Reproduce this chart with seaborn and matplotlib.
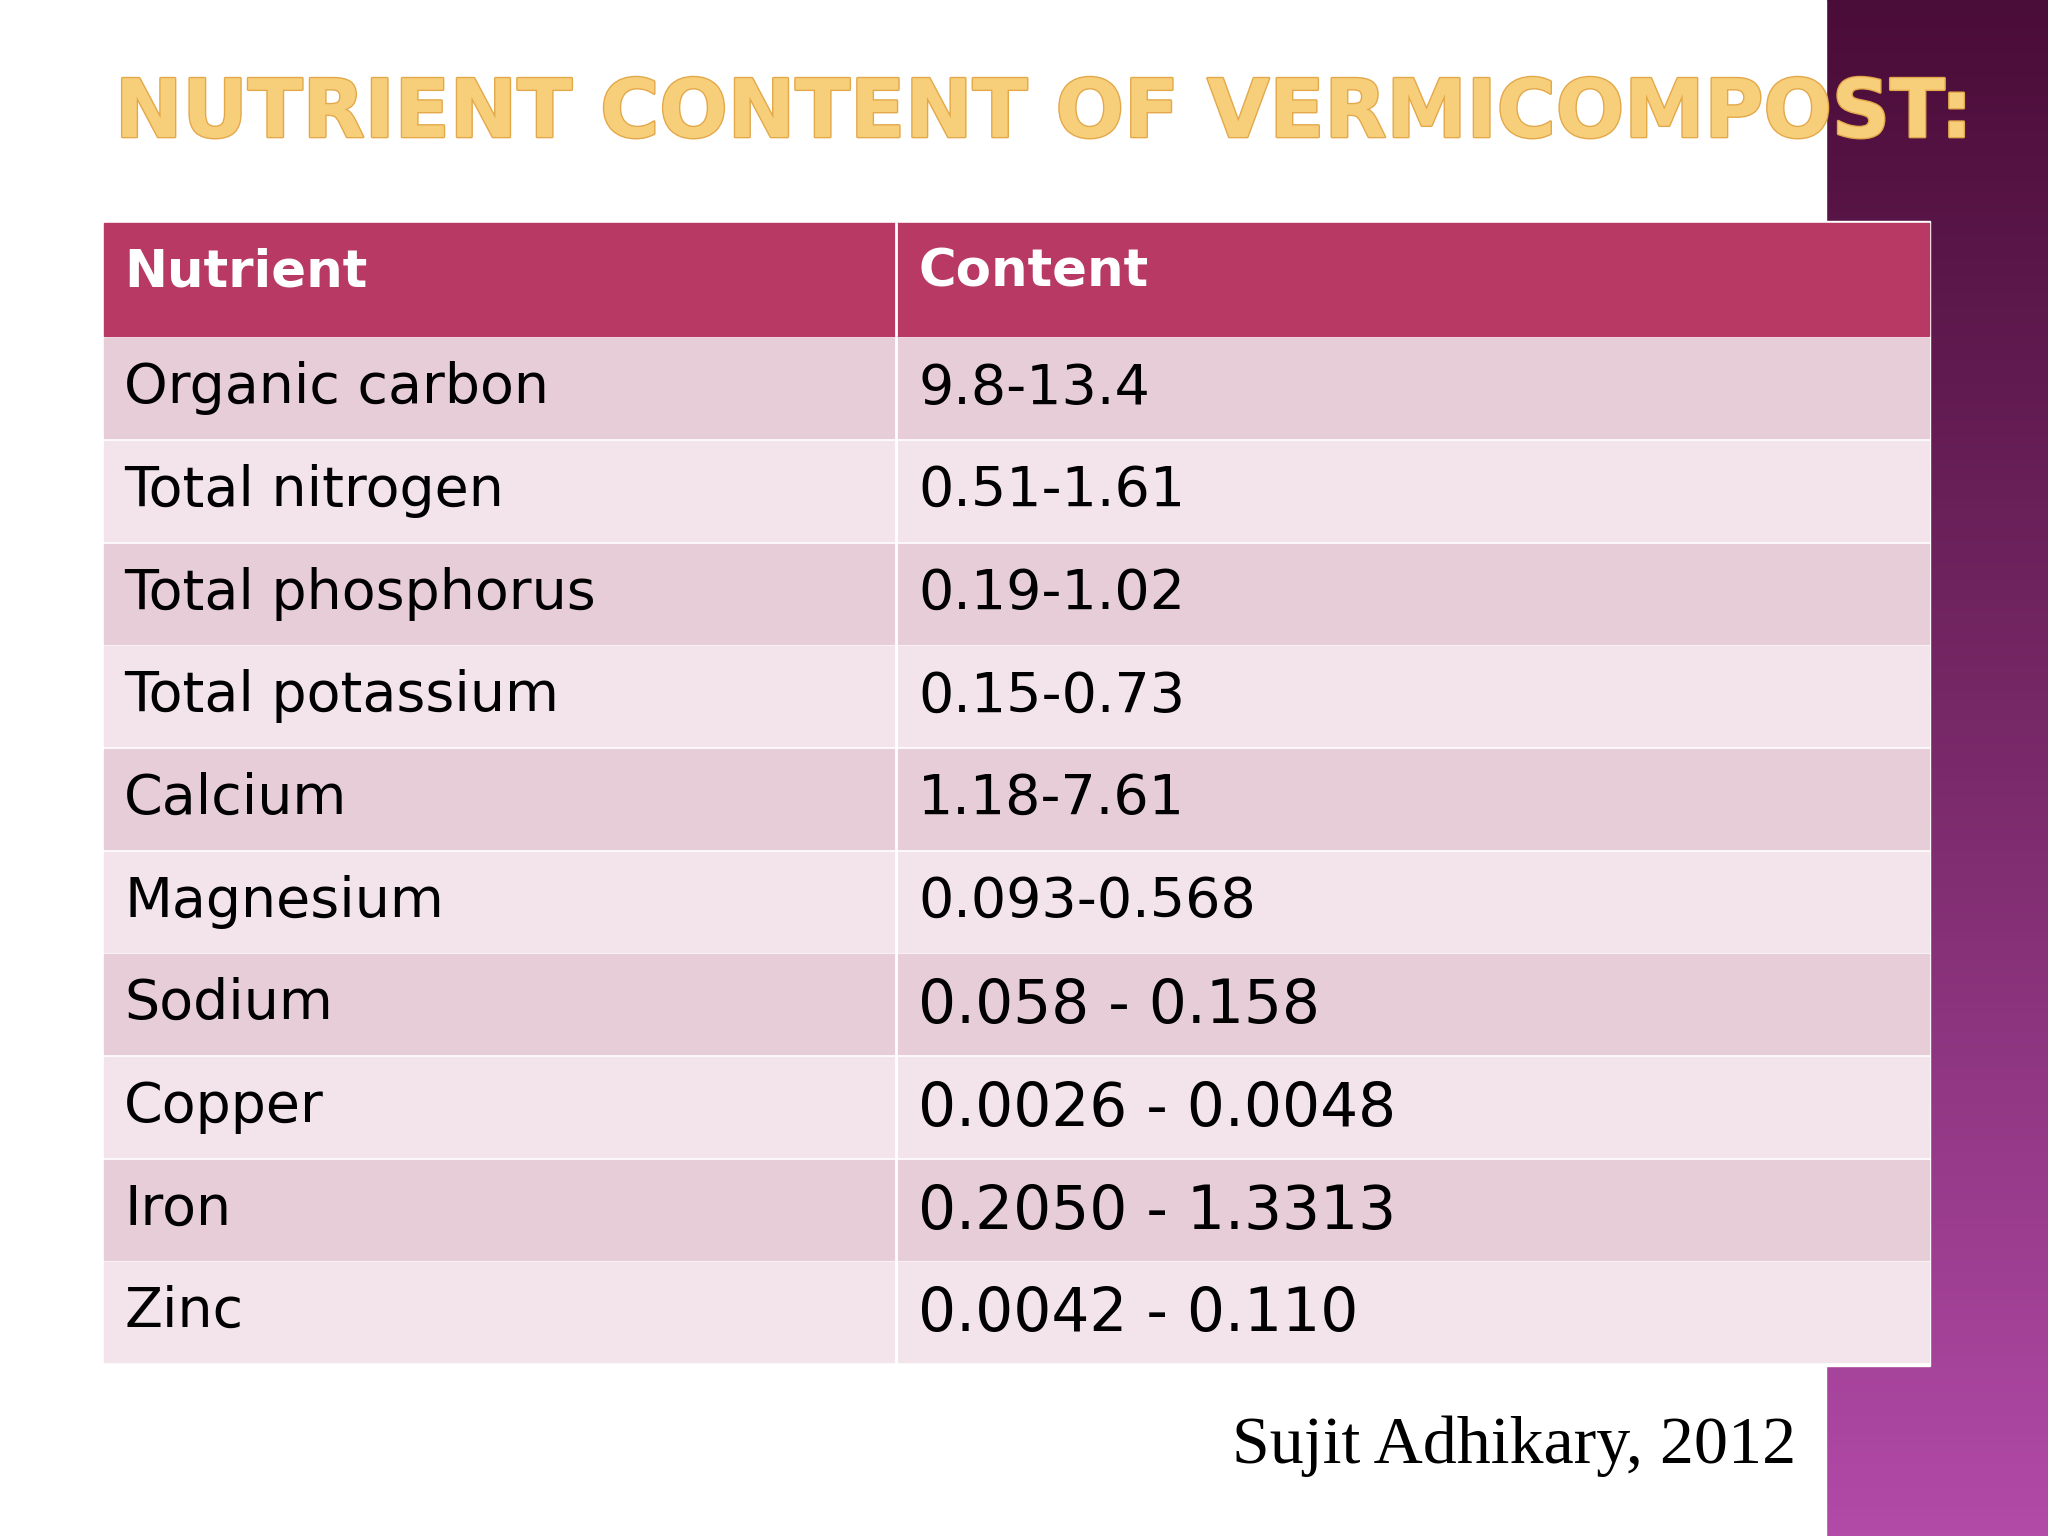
import numpy as np
import matplotlib
matplotlib.use("Agg")
import matplotlib.pyplot as plt
import matplotlib.patheffects as pe
from matplotlib.patches import Rectangle
from matplotlib.colors import LinearSegmentedColormap
import seaborn as sns

sns.set_theme(style="white")
plt.rcParams['font.family'] = ['DejaVu Sans']

title = "NUTRIENT CONTENT OF VERMICOMPOST:"
headers = ["Nutrient", "Content"]
nutrients = ["Organic carbon", "Total nitrogen", "Total phosphorus", "Total potassium",
             "Calcium", "Magnesium", "Sodium", "Copper", "Iron", "Zinc"]
contents = ["9.8-13.4", "0.51-1.61", "0.19-1.02", "0.15-0.73", "1.18-7.61",
            "0.093-0.568", "0.058 - 0.158", "0.0026 - 0.0048", "0.2050 - 1.3313", "0.0042 - 0.110"]
big_value = [False]*6 + [True]*4
citation = "Sujit Adhikary, 2012"

W, H = 1568, 1176
fig = plt.figure(figsize=(20.48, 15.36), dpi=100)
ax = fig.add_axes([0, 0, 1, 1])
ax.set_xlim(0, W); ax.set_ylim(H, 0); ax.axis("off")

grad = np.linspace(0, 1, 256)[:, None]
cm = LinearSegmentedColormap.from_list("p", ["#4a0c38", "#7a2a6a", "#b24aa8"])
ax.imshow(grad, cmap=cm, extent=[1398, W, H, 0], aspect="auto", zorder=0)
ax.add_patch(Rectangle((0, 0), 1398, H, color="white", zorder=0.5))

ax.text(88, 88, title, fontsize=58, fontweight="semibold", color="#f7cf7a", va="center", ha="left",
        zorder=5, path_effects=[pe.withStroke(linewidth=2, foreground="#e3a84a")])

x0, xm, x1 = 80, 686, 1477
top, rh = 259, 78.6
ax.add_patch(Rectangle((x0 - 1, 169), x1 - x0 + 2, top + 10*rh - 169 + 1, color="white", zorder=1))
ax.add_patch(Rectangle((x0, 171), x1-x0, 86, color="#b83a64", zorder=2))
ax.plot([xm, xm], [171, 257], color="white", lw=2, zorder=3)
ax.text(95, 209, headers[0], fontsize=37, fontweight="bold", color="white", va="center", zorder=4)
ax.text(703, 209, headers[1], fontsize=37, fontweight="bold", color="white", va="center", zorder=4)

for i, (n, c) in enumerate(zip(nutrients, contents)):
    y = top + i*rh
    col = "#e6cdd7" if i % 2 == 0 else "#f2e4ea"
    ax.add_patch(Rectangle((x0, y), x1-x0, rh-2, color=col, zorder=2))
    yc = y + rh/2 - 1
    ax.text(95, yc, n, fontsize=40, color="black", va="center", zorder=4)
    ax.text(703, yc + (2 if big_value[i] else 0), c, fontsize=43 if big_value[i] else 40,
            color="black", va="center", zorder=4)
ax.plot([xm, xm], [top, top+10*rh], color="white", lw=2, zorder=3)

ax.text(1375, 1107, citation, fontsize=49, family="Liberation Serif", color="black",
        ha="right", va="center", zorder=4)

fig.savefig("out.png", dpi=100)
